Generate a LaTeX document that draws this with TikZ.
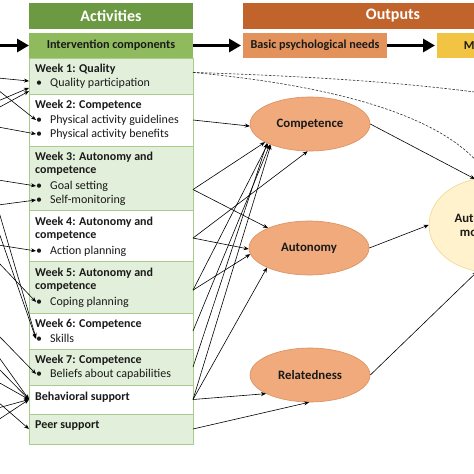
\documentclass[tikz,border=0pt]{standalone}
\usepackage{fontspec}
\setmainfont{Carlito}
\usetikzlibrary{arrows.meta,shapes.geometric,calc}
\definecolor{hdgreen}{HTML}{6C9A42}
\definecolor{icgreen}{HTML}{8FBB5E}
\definecolor{lgreen}{HTML}{E2EFDA}
\definecolor{rowline}{HTML}{A9CB8B}
\definecolor{hdorange}{HTML}{C1642C}
\definecolor{bpnorange}{HTML}{E2925A}
\definecolor{motyellow}{HTML}{F2C443}
\definecolor{ellfill}{HTML}{F0AA7C}
\definecolor{elldraw}{HTML}{DC8E5E}
\definecolor{amfill}{HTML}{FFF2CC}
\definecolor{amdraw}{HTML}{EFD98F}
\definecolor{txt}{HTML}{1A1A1A}
\newcommand\bitem[1]{\makebox[14pt][l]{\textbullet}#1}
\begin{document}
\begin{tikzpicture}[x=1pt,y=-1pt,
  hdr/.style={anchor=north west, inner sep=0pt, outer sep=0pt, minimum height=26pt, text=white, font=\bfseries\fontsize{16}{18}\selectfont},
  sub/.style={anchor=north west, inner sep=0pt, outer sep=0pt, minimum height=25pt, text=txt, font=\bfseries\fontsize{12.2}{14}\selectfont},
  rowbox/.style={draw=rowline, line width=0.8pt, anchor=north west, inner sep=0pt, outer sep=0pt, minimum width=164pt},
  wk/.style={anchor=west, inner sep=0pt, text=txt, font=\bfseries\fontsize{12}{14}\selectfont},
  bul/.style={anchor=west, inner sep=0pt, text=txt, font=\fontsize{12}{14}\selectfont},
  need/.style={ellipse, fill=ellfill, draw=elldraw, line width=0.6pt, minimum width=120pt, minimum height=54pt, inner sep=0pt, text=txt, font=\bfseries\fontsize{12.8}{15}\selectfont},
  big/.style={line width=3.5pt, -{Triangle[length=12pt,width=13pt]}},
  con/.style={line width=0.6pt, black, -{Stealth[length=5pt,width=4pt]}},
  dcurve/.style={line width=0.6pt, black!80, dash pattern=on 2.5pt off 1.5pt, -{Stealth[length=5pt,width=4pt]}}
]
\useasboundingbox (0,0) rectangle (474,474);
\clip (0,0) rectangle (474,474);
\fill[white] (0,0) rectangle (474,474);

% headers
\node[hdr, fill=hdgreen, minimum width=164pt] (act) at (29,3) {Activities};
\node[sub, fill=icgreen, minimum width=164pt] (ic) at (29,33) {Intervention components};
\node[hdr, fill=hdorange, minimum width=300pt] (out) at (243,3) {Outputs};
\node[sub, fill=bpnorange, minimum width=144pt] (bpn) at (243,33) {Basic psychological needs};
\node[sub, fill=motyellow, minimum width=110pt] (mot) at (437,33) {Motivation};

\coordinate (lin) at (-6,45.5);
\draw[big] (lin) -- (ic.west);
\draw[big] (ic.east) -- ([xshift=-2pt]bpn.west);
\draw[big] (bpn.east) -- ([xshift=-2pt]mot.west);

% rows
\node[rowbox, fill=lgreen, minimum height=36pt] (w1) at (29,58) {};
\node[rowbox, fill=white, minimum height=52pt] (w2) at (29,94) {};
\node[rowbox, fill=lgreen, minimum height=64pt] (w3) at (29,146) {};
\node[rowbox, fill=white, minimum height=51pt] (w4) at (29,210) {};
\node[rowbox, fill=lgreen, minimum height=52pt] (w5) at (29,261) {};
\node[rowbox, fill=white, minimum height=36pt] (w6) at (29,313) {};
\node[rowbox, fill=lgreen, minimum height=36pt] (w7) at (29,349) {};
\node[rowbox, fill=white, minimum height=29pt] (bsr) at (29,385) {};
\node[rowbox, fill=lgreen, minimum height=30pt] (psr) at (29,414) {};

\node[wk] (w1h) at (35,69) {Week 1: Quality};
\node[bul] (w1a) at (36,83) {\bitem{Quality participation}};
\node[wk] (w2h) at (35,105) {Week 2: Competence};
\node[bul] (w2a) at (36,120) {\bitem{Physical activity guidelines}};
\node[bul] (w2b) at (36,134) {\bitem{Physical activity benefits}};
\node[wk] (w3h) at (35,157) {Week 3: Autonomy and};
\node[wk] (w3c) at (35,171) {competence};
\node[bul] (w3a) at (36,186) {\bitem{Goal setting}};
\node[bul] (w3b) at (36,200) {\bitem{Self-monitoring}};
\node[wk] (w4h) at (35,222) {Week 4: Autonomy and};
\node[wk] (w4c) at (35,236) {competence};
\node[bul] (w4a) at (36,251) {\bitem{Action planning}};
\node[wk] (w5h) at (35,273) {Week 5: Autonomy and};
\node[wk] (w5c) at (35,287) {competence};
\node[bul] (w5a) at (36,302) {\bitem{Coping planning}};
\node[wk] (w6h) at (35,324) {Week 6: Competence};
\node[bul] (w6a) at (36,338) {\bitem{Skills}};
\node[wk] (w7h) at (35,360) {Week 7: Competence};
\node[bul] (w7a) at (36,374) {\bitem{Beliefs about capabilities}};
\node[wk] (bs) at (35,397) {Behavioral support};
\node[wk] (ps) at (35,426) {Peer support};

% needs
\node[need] (comp) at (310,124) {Competence};
\node[need] (auto) at (309,248) {Autonomy};
\node[need] (rel) at (310,375) {Relatedness};
\node[ellipse, fill=amfill, draw=amdraw, line width=0.6pt, minimum width=120pt, minimum height=94pt, inner sep=0pt, align=center, text=txt, font=\bfseries\fontsize{12.8}{14}\selectfont] (am) at (489,225) {Autonomous\\motivation};

% left incoming connectors
\coordinate (l1) at (-2,78);
\coordinate (l2) at (-2,101);
\coordinate (l3) at (-2,108);
\coordinate (l4) at (-2,90);
\coordinate (l5) at (-2,127);
\coordinate (l6) at (-2,180);
\coordinate (l7) at (-2,205);
\coordinate (l8) at (-2,245);
\coordinate (l9) at (-2,262);
\coordinate (l10) at (-1,212);
\coordinate (l11) at (-4,224);
\coordinate (l12) at (-2,335);
\coordinate (l13) at (-2,356);
\coordinate (l14) at (-2,368);
\coordinate (l15) at (-2,382);
\coordinate (l16) at (-2,408);
\coordinate (l17) at (-2,420);
\coordinate (l18) at (-2,402);
\draw[con] (l1) -- ($(w1.north west)!0.64!(w1.south west)$);
\draw[con] (l2) -- ($(w1.north west)!0.83!(w1.south west)$);
\draw[con] (l3) -- ($(w1.north west)!0.92!(w1.south west)$);
\draw[con] (l4) -- (w2a.west);
\draw[con] (l5) -- (w2b.west);
\draw[con] (l6) -- (w3a.west);
\draw[con] (l7) -- (w3b.west);
\draw[con] (l8) -- (w4a.west);
\draw[con] (l9) -- (w5a.west);
\draw[con] (l10) -- (w6a.west);
\draw[con] (l11) -- ([yshift=-1pt]w6a.west);
\draw[con] (l12) -- (w7a.west);
\draw[con] (l13) -- (bsr.west);
\draw[con] (l14) -- (bsr.west);
\draw[con] (l15) -- (bsr.west);
\draw[con] (l16) -- (bsr.west);
\draw[con] (l17) -- (bsr.west);
\draw[con] (l18) -- (psr.west);

% right connectors to needs
\draw[con] (w2.east) -- (comp.182);
\draw[con] ($(w3.north east)!0.68!(w3.south east)$) -- (comp.202);
\draw[con] ($(w3.north east)!0.68!(w3.south east)$) -- (auto.154);
\draw[con] ($(w4.north east)!0.55!(w4.south east)$) -- (comp.265);
\draw[con] ($(w4.north east)!0.55!(w4.south east)$) -- (auto.181);
\draw[con] ($(w5.north east)!0.56!(w5.south east)$) -- (comp.205);
\draw[con] ($(w5.north east)!0.56!(w5.south east)$) -- (auto.186);
\draw[con] (w6.east) -- (comp.207);
\draw[con] (w7.east) -- (comp.204);
\draw[con] (bsr.east) -- (comp.208);
\draw[con] (bsr.east) -- (auto.205);
\draw[con] (bsr.east) -- (rel.203);
\draw[con] (psr.east) -- (rel.268);

% needs to motivation
\draw[con] (comp.east) -- (am.107);
\draw[con] (auto.east) -- (am.west);
\draw[con] (rel.east) -- (am.256);

% dashed curves
\coordinate (d1) at (530,100);
\draw[dcurve] ($(w1.north east)!0.4!(w1.south east)$) .. controls (330,77) and (430,84) .. (d1);
\draw[dcurve] ($(w1.north east)!0.4!(w1.south east)$) .. controls (270,80) and (440,100) .. (am.north);
\end{tikzpicture}
\end{document}
